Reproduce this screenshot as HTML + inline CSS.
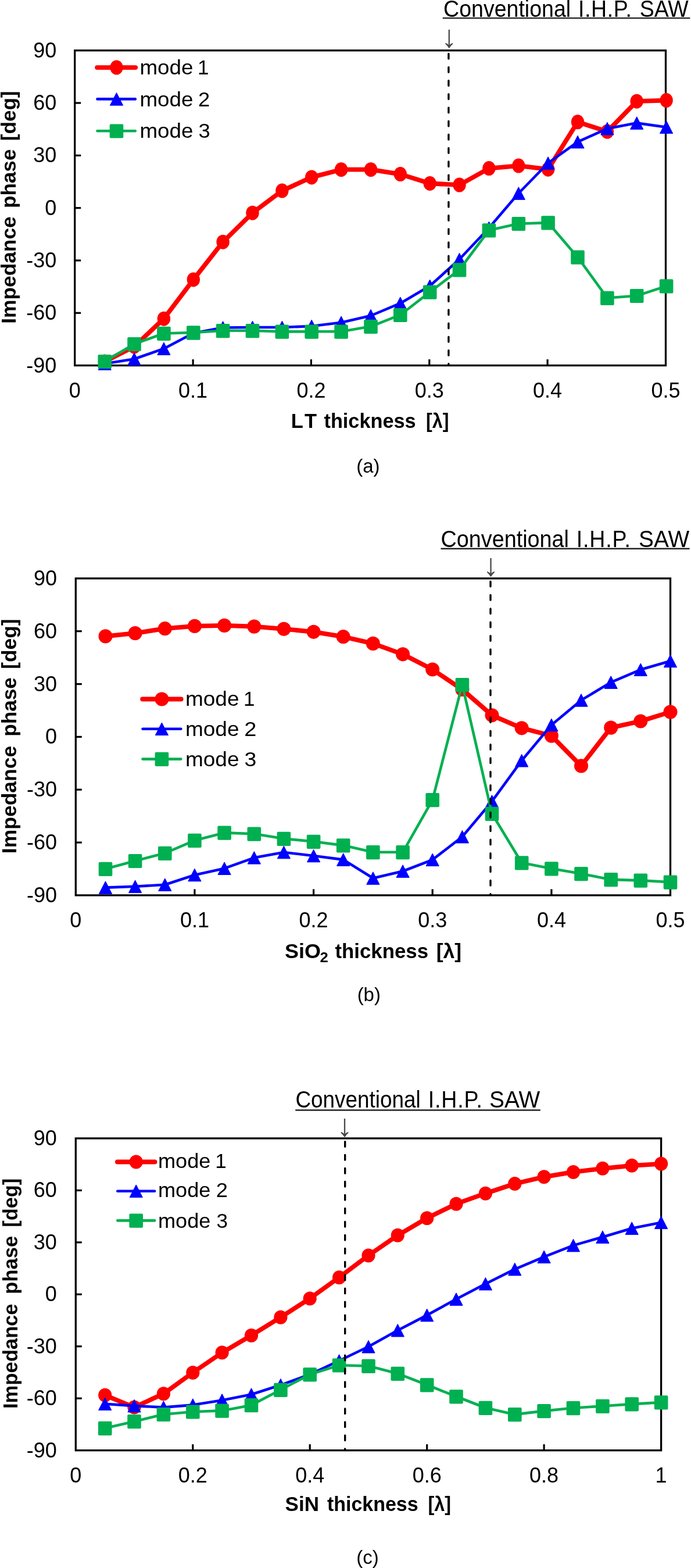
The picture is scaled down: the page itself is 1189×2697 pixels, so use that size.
<!DOCTYPE html>
<html><head><meta charset="utf-8"><title>Impedance phase vs thickness</title>
<style>
html,body{margin:0;padding:0;background:#fff;}
svg{display:block;}
.t{font-family:'Liberation Sans', Arial, sans-serif;font-size:35px;fill:#000;}
.tk{font-family:'Liberation Sans', Arial, sans-serif;font-size:36px;fill:#000;}
.b{font-family:'Liberation Sans', Arial, sans-serif;font-size:36px;font-weight:bold;fill:#000;}
.ann{font-family:'Liberation Sans', Arial, sans-serif;font-size:37.5px;fill:#000;word-spacing:0px;}
.cap{font-family:'Liberation Sans', Arial, sans-serif;font-size:33px;fill:#000;}
.arr{font-family:'Liberation Sans', Arial, sans-serif;font-size:54px;fill:#484848;}
.ax{stroke:#000;stroke-width:3.2;}
.bx{font-family:'Liberation Sans', Arial, sans-serif;font-size:34.5px;font-weight:bold;fill:#000;}
</style></head>
<body>
<svg width="1189" height="2697" viewBox="0 0 1189 2697">
<rect width="1189" height="2697" fill="#fff"/>
<text x="97.4" y="98.7" text-anchor="end" class="tk">90</text>
<text x="97.4" y="189.0" text-anchor="end" class="tk">60</text>
<line x1="128.7" y1="177.1" x2="139.2" y2="177.1" class="ax"/>
<text x="97.4" y="279.3" text-anchor="end" class="tk">30</text>
<line x1="128.7" y1="267.4" x2="139.2" y2="267.4" class="ax"/>
<text x="97.4" y="369.6" text-anchor="end" class="tk">0</text>
<line x1="128.7" y1="357.7" x2="139.2" y2="357.7" class="ax"/>
<text x="97.4" y="459.9" text-anchor="end" class="tk">-30</text>
<line x1="128.7" y1="448.0" x2="139.2" y2="448.0" class="ax"/>
<text x="97.4" y="550.2" text-anchor="end" class="tk">-60</text>
<line x1="128.7" y1="538.3" x2="139.2" y2="538.3" class="ax"/>
<text x="97.4" y="640.5" text-anchor="end" class="tk">-90</text>
<text x="128.7" y="683.6" text-anchor="middle" class="tk">0</text>
<text x="332.1" y="683.6" text-anchor="middle" class="tk">0.1</text>
<line x1="332.1" y1="628.6" x2="332.1" y2="618.1" class="ax"/>
<text x="535.4" y="683.6" text-anchor="middle" class="tk">0.2</text>
<line x1="535.4" y1="628.6" x2="535.4" y2="618.1" class="ax"/>
<text x="738.8" y="683.6" text-anchor="middle" class="tk">0.3</text>
<line x1="738.8" y1="628.6" x2="738.8" y2="618.1" class="ax"/>
<text x="942.1" y="683.6" text-anchor="middle" class="tk">0.4</text>
<line x1="942.1" y1="628.6" x2="942.1" y2="618.1" class="ax"/>
<text x="1145.5" y="683.6" text-anchor="middle" class="tk">0.5</text>
<rect x="128.7" y="86.8" width="1016.8" height="541.8" fill="none" stroke="#000" stroke-width="3.3"/>
<polyline points="180.2,622.0 231.0,596.0 281.9,548.2 332.8,480.9 383.6,416.2 434.5,366.2 485.4,328.1 536.2,304.9 587.1,291.7 638.0,291.7 688.8,299.6 739.7,315.5 790.5,318.1 841.4,289.6 892.3,285.1 943.1,291.2 994.0,209.8 1044.9,226.3 1095.7,174.2 1146.6,172.6" fill="none" stroke="#FF0000" stroke-width="7.8" stroke-linejoin="round" stroke-linecap="round"/>
<ellipse cx="180.2" cy="622.0" rx="11.2" ry="12.5" fill="#FF0000"/>
<ellipse cx="231.0" cy="596.0" rx="11.2" ry="12.5" fill="#FF0000"/>
<ellipse cx="281.9" cy="548.2" rx="11.2" ry="12.5" fill="#FF0000"/>
<ellipse cx="332.8" cy="480.9" rx="11.2" ry="12.5" fill="#FF0000"/>
<ellipse cx="383.6" cy="416.2" rx="11.2" ry="12.5" fill="#FF0000"/>
<ellipse cx="434.5" cy="366.2" rx="11.2" ry="12.5" fill="#FF0000"/>
<ellipse cx="485.4" cy="328.1" rx="11.2" ry="12.5" fill="#FF0000"/>
<ellipse cx="536.2" cy="304.9" rx="11.2" ry="12.5" fill="#FF0000"/>
<ellipse cx="587.1" cy="291.7" rx="11.2" ry="12.5" fill="#FF0000"/>
<ellipse cx="638.0" cy="291.7" rx="11.2" ry="12.5" fill="#FF0000"/>
<ellipse cx="688.8" cy="299.6" rx="11.2" ry="12.5" fill="#FF0000"/>
<ellipse cx="739.7" cy="315.5" rx="11.2" ry="12.5" fill="#FF0000"/>
<ellipse cx="790.5" cy="318.1" rx="11.2" ry="12.5" fill="#FF0000"/>
<ellipse cx="841.4" cy="289.6" rx="11.2" ry="12.5" fill="#FF0000"/>
<ellipse cx="892.3" cy="285.1" rx="11.2" ry="12.5" fill="#FF0000"/>
<ellipse cx="943.1" cy="291.2" rx="11.2" ry="12.5" fill="#FF0000"/>
<ellipse cx="994.0" cy="209.8" rx="11.2" ry="12.5" fill="#FF0000"/>
<ellipse cx="1044.9" cy="226.3" rx="11.2" ry="12.5" fill="#FF0000"/>
<ellipse cx="1095.7" cy="174.2" rx="11.2" ry="12.5" fill="#FF0000"/>
<ellipse cx="1146.6" cy="172.6" rx="11.2" ry="12.5" fill="#FF0000"/>
<polyline points="180.2,625.5 231.0,617.5 281.9,599.7 332.8,573.0 383.6,563.5 434.5,563.0 485.4,563.0 536.2,561.0 587.1,554.7 638.0,543.0 688.8,521.7 739.7,491.8 790.5,446.0 841.4,392.0 892.3,332.5 943.1,280.5 994.0,244.1 1044.9,221.2 1095.7,211.6 1146.6,218.7" fill="none" stroke="#0000FF" stroke-width="4.6" stroke-linejoin="round" stroke-linecap="round"/>
<path d="M180.2,614.7 L191.3,636.3 L169.1,636.3 Z" fill="#0000FF" stroke="#0000FF" stroke-width="1" stroke-linejoin="round"/>
<path d="M231.0,606.7 L242.1,628.3 L219.9,628.3 Z" fill="#0000FF" stroke="#0000FF" stroke-width="1" stroke-linejoin="round"/>
<path d="M281.9,588.9 L293.0,610.5 L270.8,610.5 Z" fill="#0000FF" stroke="#0000FF" stroke-width="1" stroke-linejoin="round"/>
<path d="M332.8,562.2 L343.9,583.8 L321.7,583.8 Z" fill="#0000FF" stroke="#0000FF" stroke-width="1" stroke-linejoin="round"/>
<path d="M383.6,552.7 L394.7,574.3 L372.5,574.3 Z" fill="#0000FF" stroke="#0000FF" stroke-width="1" stroke-linejoin="round"/>
<path d="M434.5,552.2 L445.6,573.8 L423.4,573.8 Z" fill="#0000FF" stroke="#0000FF" stroke-width="1" stroke-linejoin="round"/>
<path d="M485.4,552.2 L496.5,573.8 L474.3,573.8 Z" fill="#0000FF" stroke="#0000FF" stroke-width="1" stroke-linejoin="round"/>
<path d="M536.2,550.2 L547.3,571.8 L525.1,571.8 Z" fill="#0000FF" stroke="#0000FF" stroke-width="1" stroke-linejoin="round"/>
<path d="M587.1,543.9 L598.2,565.5 L576.0,565.5 Z" fill="#0000FF" stroke="#0000FF" stroke-width="1" stroke-linejoin="round"/>
<path d="M638.0,532.2 L649.1,553.8 L626.9,553.8 Z" fill="#0000FF" stroke="#0000FF" stroke-width="1" stroke-linejoin="round"/>
<path d="M688.8,510.9 L699.9,532.5 L677.7,532.5 Z" fill="#0000FF" stroke="#0000FF" stroke-width="1" stroke-linejoin="round"/>
<path d="M739.7,481.0 L750.8,502.6 L728.6,502.6 Z" fill="#0000FF" stroke="#0000FF" stroke-width="1" stroke-linejoin="round"/>
<path d="M790.5,435.2 L801.6,456.8 L779.4,456.8 Z" fill="#0000FF" stroke="#0000FF" stroke-width="1" stroke-linejoin="round"/>
<path d="M841.4,381.2 L852.5,402.8 L830.3,402.8 Z" fill="#0000FF" stroke="#0000FF" stroke-width="1" stroke-linejoin="round"/>
<path d="M892.3,321.7 L903.4,343.3 L881.2,343.3 Z" fill="#0000FF" stroke="#0000FF" stroke-width="1" stroke-linejoin="round"/>
<path d="M943.1,269.7 L954.2,291.3 L932.0,291.3 Z" fill="#0000FF" stroke="#0000FF" stroke-width="1" stroke-linejoin="round"/>
<path d="M994.0,233.3 L1005.1,254.9 L982.9,254.9 Z" fill="#0000FF" stroke="#0000FF" stroke-width="1" stroke-linejoin="round"/>
<path d="M1044.9,210.4 L1056.0,232.0 L1033.8,232.0 Z" fill="#0000FF" stroke="#0000FF" stroke-width="1" stroke-linejoin="round"/>
<path d="M1095.7,200.8 L1106.8,222.4 L1084.6,222.4 Z" fill="#0000FF" stroke="#0000FF" stroke-width="1" stroke-linejoin="round"/>
<path d="M1146.6,207.9 L1157.7,229.5 L1135.5,229.5 Z" fill="#0000FF" stroke="#0000FF" stroke-width="1" stroke-linejoin="round"/>
<polyline points="180.2,621.7 231.0,591.7 281.9,573.5 332.8,572.0 383.6,568.8 434.5,568.8 485.4,570.4 536.2,570.3 587.1,570.3 638.0,561.6 688.8,541.7 739.7,502.3 790.5,464.0 841.4,396.0 892.3,384.7 943.1,383.1 994.0,442.4 1044.9,512.5 1095.7,508.7 1146.6,492.1" fill="none" stroke="#00B050" stroke-width="4.6" stroke-linejoin="round" stroke-linecap="round"/>
<rect x="168.4" y="609.9" width="23.6" height="24.200000000000003" rx="2" fill="#00B050"/>
<rect x="219.2" y="579.9" width="23.6" height="24.200000000000003" rx="2" fill="#00B050"/>
<rect x="270.1" y="561.7" width="23.6" height="24.200000000000003" rx="2" fill="#00B050"/>
<rect x="321.0" y="560.2" width="23.6" height="24.200000000000003" rx="2" fill="#00B050"/>
<rect x="371.8" y="557.0" width="23.6" height="24.200000000000003" rx="2" fill="#00B050"/>
<rect x="422.7" y="557.0" width="23.6" height="24.200000000000003" rx="2" fill="#00B050"/>
<rect x="473.6" y="558.6" width="23.6" height="24.200000000000003" rx="2" fill="#00B050"/>
<rect x="524.4" y="558.5" width="23.6" height="24.200000000000003" rx="2" fill="#00B050"/>
<rect x="575.3" y="558.5" width="23.6" height="24.200000000000003" rx="2" fill="#00B050"/>
<rect x="626.2" y="549.8" width="23.6" height="24.200000000000003" rx="2" fill="#00B050"/>
<rect x="677.0" y="529.9" width="23.6" height="24.200000000000003" rx="2" fill="#00B050"/>
<rect x="727.9" y="490.5" width="23.6" height="24.200000000000003" rx="2" fill="#00B050"/>
<rect x="778.7" y="452.2" width="23.6" height="24.200000000000003" rx="2" fill="#00B050"/>
<rect x="829.6" y="384.2" width="23.6" height="24.200000000000003" rx="2" fill="#00B050"/>
<rect x="880.5" y="372.9" width="23.6" height="24.200000000000003" rx="2" fill="#00B050"/>
<rect x="931.3" y="371.3" width="23.6" height="24.200000000000003" rx="2" fill="#00B050"/>
<rect x="982.2" y="430.6" width="23.6" height="24.200000000000003" rx="2" fill="#00B050"/>
<rect x="1033.1" y="500.7" width="23.6" height="24.200000000000003" rx="2" fill="#00B050"/>
<rect x="1083.9" y="496.9" width="23.6" height="24.200000000000003" rx="2" fill="#00B050"/>
<rect x="1134.8" y="480.3" width="23.6" height="24.200000000000003" rx="2" fill="#00B050"/>
<line x1="771.9" y1="92.4" x2="771.9" y2="627.6" stroke="#000" stroke-width="3.4" stroke-linecap="round" stroke-dasharray="8.6 14.59"/>
<line x1="167.1" y1="116.1" x2="233.2" y2="116.1" stroke="#FF0000" stroke-width="7.8" stroke-linecap="round"/>
<ellipse cx="200.5" cy="116.1" rx="11.2" ry="12.5" fill="#FF0000"/>
<text x="240.4" y="128.3" class="t" textLength="92.0" lengthAdjust="spacingAndGlyphs">mode</text>
<text x="340.1" y="128.3" class="t">1</text>
<line x1="167.5" y1="170.4" x2="232.8" y2="170.4" stroke="#0000FF" stroke-width="4.6" stroke-linecap="round"/>
<path d="M200.5,159.6 L211.6,181.2 L189.4,181.2 Z" fill="#0000FF" stroke="#0000FF" stroke-width="1" stroke-linejoin="round"/>
<text x="240.4" y="182.6" class="t" textLength="92.0" lengthAdjust="spacingAndGlyphs">mode</text>
<text x="341.1" y="182.6" class="t" textLength="20.2" lengthAdjust="spacingAndGlyphs">2</text>
<line x1="167.5" y1="225.2" x2="232.8" y2="225.2" stroke="#00B050" stroke-width="4.6" stroke-linecap="round"/>
<rect x="188.7" y="213.4" width="23.6" height="24.200000000000003" rx="2" fill="#00B050"/>
<text x="240.4" y="237.2" class="t" textLength="92.0" lengthAdjust="spacingAndGlyphs">mode</text>
<text x="341.4" y="237.2" class="t" textLength="20.2" lengthAdjust="spacingAndGlyphs">3</text>
<text transform="translate(763.1,28.6) scale(1,1.07)" class="ann" textLength="219.0" lengthAdjust="spacingAndGlyphs">Conventional</text>
<text transform="translate(994.9,28.6) scale(1,1.07)" class="ann" textLength="92.0" lengthAdjust="spacing">I.H.P.</text>
<text transform="translate(1100.7,28.6) scale(1,1.07)" class="ann" textLength="84.1" lengthAdjust="spacingAndGlyphs">SAW</text>
<line x1="761.7" y1="31.1" x2="1187.4" y2="31.1" stroke="#222" stroke-width="2.4"/>
<text x="772.9" y="80.6" text-anchor="middle" class="arr">↓</text>
<text transform="translate(27.3,556.7) rotate(-90)" class="b" style="font-size:35.3px" textLength="184.4" lengthAdjust="spacingAndGlyphs">Impedance</text>
<text transform="translate(27.3,358.0) rotate(-90)" class="b" style="font-size:35.3px" textLength="101.4" lengthAdjust="spacingAndGlyphs">phase</text>
<text transform="translate(27.3,242.2) rotate(-90)" class="b" style="font-size:35.3px" textLength="85.7" lengthAdjust="spacingAndGlyphs">[deg]</text>
<text x="500.8" y="735.7" class="bx" textLength="44.4" lengthAdjust="spacing">LT</text>
<text x="557.5" y="735.7" class="bx" textLength="158.1" lengthAdjust="spacingAndGlyphs">thickness</text>
<text x="733.1" y="735.7" class="bx" textLength="39.5" lengthAdjust="spacingAndGlyphs">[λ]</text>
<text x="633.4" y="813.0" text-anchor="middle" class="cap">(a)</text>
<text x="98.0" y="1006.8" text-anchor="end" class="tk">90</text>
<text x="98.0" y="1097.6" text-anchor="end" class="tk">60</text>
<line x1="130.3" y1="1085.7" x2="140.8" y2="1085.7" class="ax"/>
<text x="98.0" y="1188.5" text-anchor="end" class="tk">30</text>
<line x1="130.3" y1="1176.6" x2="140.8" y2="1176.6" class="ax"/>
<text x="98.0" y="1279.3" text-anchor="end" class="tk">0</text>
<line x1="130.3" y1="1267.4" x2="140.8" y2="1267.4" class="ax"/>
<text x="98.0" y="1370.1" text-anchor="end" class="tk">-30</text>
<line x1="130.3" y1="1358.2" x2="140.8" y2="1358.2" class="ax"/>
<text x="98.0" y="1461.0" text-anchor="end" class="tk">-60</text>
<line x1="130.3" y1="1449.1" x2="140.8" y2="1449.1" class="ax"/>
<text x="98.0" y="1551.8" text-anchor="end" class="tk">-90</text>
<text x="130.3" y="1594.9" text-anchor="middle" class="tk">0</text>
<text x="334.9" y="1594.9" text-anchor="middle" class="tk">0.1</text>
<line x1="334.9" y1="1539.9" x2="334.9" y2="1529.4" class="ax"/>
<text x="539.6" y="1594.9" text-anchor="middle" class="tk">0.2</text>
<line x1="539.6" y1="1539.9" x2="539.6" y2="1529.4" class="ax"/>
<text x="744.2" y="1594.9" text-anchor="middle" class="tk">0.3</text>
<line x1="744.2" y1="1539.9" x2="744.2" y2="1529.4" class="ax"/>
<text x="948.9" y="1594.9" text-anchor="middle" class="tk">0.4</text>
<line x1="948.9" y1="1539.9" x2="948.9" y2="1529.4" class="ax"/>
<text x="1153.5" y="1594.9" text-anchor="middle" class="tk">0.5</text>
<rect x="130.3" y="994.9" width="1023.2" height="545.0" fill="none" stroke="#000" stroke-width="3.3"/>
<polyline points="181.5,1094.4 232.6,1089.1 283.8,1081.2 334.9,1076.9 386.1,1075.9 437.3,1077.6 488.4,1081.8 539.6,1086.8 590.7,1095.2 641.9,1106.9 693.1,1125.3 744.2,1151.5 795.4,1186.0 846.5,1230.3 897.7,1252.3 948.9,1265.6 1000.0,1317.4 1051.2,1251.6 1102.3,1240.5 1153.5,1224.6" fill="none" stroke="#FF0000" stroke-width="7.8" stroke-linejoin="round" stroke-linecap="round"/>
<ellipse cx="181.5" cy="1094.4" rx="12.0" ry="12.1" fill="#FF0000"/>
<ellipse cx="232.6" cy="1089.1" rx="12.0" ry="12.1" fill="#FF0000"/>
<ellipse cx="283.8" cy="1081.2" rx="12.0" ry="12.1" fill="#FF0000"/>
<ellipse cx="334.9" cy="1076.9" rx="12.0" ry="12.1" fill="#FF0000"/>
<ellipse cx="386.1" cy="1075.9" rx="12.0" ry="12.1" fill="#FF0000"/>
<ellipse cx="437.3" cy="1077.6" rx="12.0" ry="12.1" fill="#FF0000"/>
<ellipse cx="488.4" cy="1081.8" rx="12.0" ry="12.1" fill="#FF0000"/>
<ellipse cx="539.6" cy="1086.8" rx="12.0" ry="12.1" fill="#FF0000"/>
<ellipse cx="590.7" cy="1095.2" rx="12.0" ry="12.1" fill="#FF0000"/>
<ellipse cx="641.9" cy="1106.9" rx="12.0" ry="12.1" fill="#FF0000"/>
<ellipse cx="693.1" cy="1125.3" rx="12.0" ry="12.1" fill="#FF0000"/>
<ellipse cx="744.2" cy="1151.5" rx="12.0" ry="12.1" fill="#FF0000"/>
<ellipse cx="795.4" cy="1186.0" rx="12.0" ry="12.1" fill="#FF0000"/>
<ellipse cx="846.5" cy="1230.3" rx="12.0" ry="12.1" fill="#FF0000"/>
<ellipse cx="897.7" cy="1252.3" rx="12.0" ry="12.1" fill="#FF0000"/>
<ellipse cx="948.9" cy="1265.6" rx="12.0" ry="12.1" fill="#FF0000"/>
<ellipse cx="1000.0" cy="1317.4" rx="12.0" ry="12.1" fill="#FF0000"/>
<ellipse cx="1051.2" cy="1251.6" rx="12.0" ry="12.1" fill="#FF0000"/>
<ellipse cx="1102.3" cy="1240.5" rx="12.0" ry="12.1" fill="#FF0000"/>
<ellipse cx="1153.5" cy="1224.6" rx="12.0" ry="12.1" fill="#FF0000"/>
<polyline points="181.5,1526.6 232.6,1524.8 283.8,1521.7 334.9,1505.0 386.1,1493.7 437.3,1475.3 488.4,1466.0 539.6,1472.0 590.7,1478.6 641.9,1510.5 693.1,1498.5 744.2,1478.8 795.4,1439.2 846.5,1378.4 897.7,1308.2 948.9,1246.9 1000.0,1204.4 1051.2,1173.6 1102.3,1151.8 1153.5,1137.0" fill="none" stroke="#0000FF" stroke-width="4.6" stroke-linejoin="round" stroke-linecap="round"/>
<path d="M181.5,1515.8 L192.6,1537.4 L170.4,1537.4 Z" fill="#0000FF" stroke="#0000FF" stroke-width="1" stroke-linejoin="round"/>
<path d="M232.6,1514.0 L243.7,1535.6 L221.5,1535.6 Z" fill="#0000FF" stroke="#0000FF" stroke-width="1" stroke-linejoin="round"/>
<path d="M283.8,1510.9 L294.9,1532.5 L272.7,1532.5 Z" fill="#0000FF" stroke="#0000FF" stroke-width="1" stroke-linejoin="round"/>
<path d="M334.9,1494.2 L346.0,1515.8 L323.8,1515.8 Z" fill="#0000FF" stroke="#0000FF" stroke-width="1" stroke-linejoin="round"/>
<path d="M386.1,1482.9 L397.2,1504.5 L375.0,1504.5 Z" fill="#0000FF" stroke="#0000FF" stroke-width="1" stroke-linejoin="round"/>
<path d="M437.3,1464.5 L448.4,1486.1 L426.2,1486.1 Z" fill="#0000FF" stroke="#0000FF" stroke-width="1" stroke-linejoin="round"/>
<path d="M488.4,1455.2 L499.5,1476.8 L477.3,1476.8 Z" fill="#0000FF" stroke="#0000FF" stroke-width="1" stroke-linejoin="round"/>
<path d="M539.6,1461.2 L550.7,1482.8 L528.5,1482.8 Z" fill="#0000FF" stroke="#0000FF" stroke-width="1" stroke-linejoin="round"/>
<path d="M590.7,1467.8 L601.8,1489.4 L579.6,1489.4 Z" fill="#0000FF" stroke="#0000FF" stroke-width="1" stroke-linejoin="round"/>
<path d="M641.9,1499.7 L653.0,1521.3 L630.8,1521.3 Z" fill="#0000FF" stroke="#0000FF" stroke-width="1" stroke-linejoin="round"/>
<path d="M693.1,1487.7 L704.2,1509.3 L682.0,1509.3 Z" fill="#0000FF" stroke="#0000FF" stroke-width="1" stroke-linejoin="round"/>
<path d="M744.2,1468.0 L755.3,1489.6 L733.1,1489.6 Z" fill="#0000FF" stroke="#0000FF" stroke-width="1" stroke-linejoin="round"/>
<path d="M795.4,1428.4 L806.5,1450.0 L784.3,1450.0 Z" fill="#0000FF" stroke="#0000FF" stroke-width="1" stroke-linejoin="round"/>
<path d="M846.5,1367.6 L857.6,1389.2 L835.4,1389.2 Z" fill="#0000FF" stroke="#0000FF" stroke-width="1" stroke-linejoin="round"/>
<path d="M897.7,1297.4 L908.8,1319.0 L886.6,1319.0 Z" fill="#0000FF" stroke="#0000FF" stroke-width="1" stroke-linejoin="round"/>
<path d="M948.9,1236.1 L960.0,1257.7 L937.8,1257.7 Z" fill="#0000FF" stroke="#0000FF" stroke-width="1" stroke-linejoin="round"/>
<path d="M1000.0,1193.6 L1011.1,1215.2 L988.9,1215.2 Z" fill="#0000FF" stroke="#0000FF" stroke-width="1" stroke-linejoin="round"/>
<path d="M1051.2,1162.8 L1062.3,1184.4 L1040.1,1184.4 Z" fill="#0000FF" stroke="#0000FF" stroke-width="1" stroke-linejoin="round"/>
<path d="M1102.3,1141.0 L1113.4,1162.6 L1091.2,1162.6 Z" fill="#0000FF" stroke="#0000FF" stroke-width="1" stroke-linejoin="round"/>
<path d="M1153.5,1126.2 L1164.6,1147.8 L1142.4,1147.8 Z" fill="#0000FF" stroke="#0000FF" stroke-width="1" stroke-linejoin="round"/>
<polyline points="181.5,1494.5 232.6,1480.7 283.8,1467.5 334.9,1445.6 386.1,1432.4 437.3,1434.3 488.4,1442.5 539.6,1447.5 590.7,1454.1 641.9,1465.8 693.1,1465.8 744.2,1375.8 795.4,1177.7 846.5,1399.5 897.7,1484.0 948.9,1494.1 1000.0,1502.8 1051.2,1512.9 1102.3,1514.4 1153.5,1517.3" fill="none" stroke="#00B050" stroke-width="4.6" stroke-linejoin="round" stroke-linecap="round"/>
<rect x="169.7" y="1482.7" width="23.6" height="24.200000000000003" rx="2" fill="#00B050"/>
<rect x="220.8" y="1468.9" width="23.6" height="24.200000000000003" rx="2" fill="#00B050"/>
<rect x="272.0" y="1455.7" width="23.6" height="24.200000000000003" rx="2" fill="#00B050"/>
<rect x="323.1" y="1433.8" width="23.6" height="24.200000000000003" rx="2" fill="#00B050"/>
<rect x="374.3" y="1420.6" width="23.6" height="24.200000000000003" rx="2" fill="#00B050"/>
<rect x="425.5" y="1422.5" width="23.6" height="24.200000000000003" rx="2" fill="#00B050"/>
<rect x="476.6" y="1430.7" width="23.6" height="24.200000000000003" rx="2" fill="#00B050"/>
<rect x="527.8" y="1435.7" width="23.6" height="24.200000000000003" rx="2" fill="#00B050"/>
<rect x="578.9" y="1442.3" width="23.6" height="24.200000000000003" rx="2" fill="#00B050"/>
<rect x="630.1" y="1454.0" width="23.6" height="24.200000000000003" rx="2" fill="#00B050"/>
<rect x="681.3" y="1454.0" width="23.6" height="24.200000000000003" rx="2" fill="#00B050"/>
<rect x="732.4" y="1364.0" width="23.6" height="24.200000000000003" rx="2" fill="#00B050"/>
<rect x="783.6" y="1165.9" width="23.6" height="24.200000000000003" rx="2" fill="#00B050"/>
<rect x="834.7" y="1387.7" width="23.6" height="24.200000000000003" rx="2" fill="#00B050"/>
<rect x="885.9" y="1472.2" width="23.6" height="24.200000000000003" rx="2" fill="#00B050"/>
<rect x="937.1" y="1482.3" width="23.6" height="24.200000000000003" rx="2" fill="#00B050"/>
<rect x="988.2" y="1491.0" width="23.6" height="24.200000000000003" rx="2" fill="#00B050"/>
<rect x="1039.4" y="1501.1" width="23.6" height="24.200000000000003" rx="2" fill="#00B050"/>
<rect x="1090.5" y="1502.6" width="23.6" height="24.200000000000003" rx="2" fill="#00B050"/>
<rect x="1141.7" y="1505.5" width="23.6" height="24.200000000000003" rx="2" fill="#00B050"/>
<line x1="844.0" y1="1000.2" x2="844.0" y2="1538.9" stroke="#000" stroke-width="3.4" stroke-linecap="round" stroke-dasharray="8.6 14.77"/>
<line x1="245.1" y1="1202.5" x2="311.7" y2="1202.5" stroke="#FF0000" stroke-width="7.8" stroke-linecap="round"/>
<ellipse cx="278.4" cy="1202.5" rx="12.0" ry="12.1" fill="#FF0000"/>
<text x="319.0" y="1214.2" class="t" textLength="92.5" lengthAdjust="spacingAndGlyphs">mode</text>
<text x="419.1" y="1214.2" class="t">1</text>
<line x1="245.5" y1="1253.8" x2="311.3" y2="1253.8" stroke="#0000FF" stroke-width="4.6" stroke-linecap="round"/>
<path d="M278.4,1243.0 L289.5,1264.6 L267.3,1264.6 Z" fill="#0000FF" stroke="#0000FF" stroke-width="1" stroke-linejoin="round"/>
<text x="319.0" y="1265.9" class="t" textLength="92.5" lengthAdjust="spacingAndGlyphs">mode</text>
<text x="420.2" y="1265.9" class="t" textLength="21.1" lengthAdjust="spacingAndGlyphs">2</text>
<line x1="245.5" y1="1305.6" x2="311.3" y2="1305.6" stroke="#00B050" stroke-width="4.6" stroke-linecap="round"/>
<rect x="266.6" y="1293.8" width="23.6" height="24.200000000000003" rx="2" fill="#00B050"/>
<text x="319.0" y="1317.6" class="t" textLength="92.5" lengthAdjust="spacingAndGlyphs">mode</text>
<text x="420.5" y="1317.6" class="t" textLength="20.8" lengthAdjust="spacingAndGlyphs">3</text>
<text transform="translate(758.6,940.9) scale(1,1.07)" class="ann" textLength="220.4" lengthAdjust="spacingAndGlyphs">Conventional</text>
<text transform="translate(991.7,940.9) scale(1,1.07)" class="ann" textLength="93.2" lengthAdjust="spacing">I.H.P.</text>
<text transform="translate(1099.1,940.9) scale(1,1.07)" class="ann" textLength="87.1" lengthAdjust="spacingAndGlyphs">SAW</text>
<line x1="758.5" y1="943.7" x2="1186.6" y2="943.7" stroke="#222" stroke-width="2.4"/>
<text x="844.8" y="989.9" text-anchor="middle" class="arr">↓</text>
<text transform="translate(28.3,1468.2) rotate(-90)" class="b" style="font-size:35.3px" textLength="185.5" lengthAdjust="spacingAndGlyphs">Impedance</text>
<text transform="translate(28.3,1266.8) rotate(-90)" class="b" style="font-size:35.3px" textLength="101.7" lengthAdjust="spacingAndGlyphs">phase</text>
<text transform="translate(28.3,1150.7) rotate(-90)" class="b" style="font-size:35.3px" textLength="86.1" lengthAdjust="spacingAndGlyphs">[deg]</text>
<text x="490.1" y="1648.0" class="bx" textLength="62.0" lengthAdjust="spacingAndGlyphs">SiO</text>
<text x="550.6" y="1654.8" class="bx" style="font-size:24px" textLength="14.3" lengthAdjust="spacingAndGlyphs">2</text>
<text x="576.5" y="1648.0" class="bx" textLength="160.5" lengthAdjust="spacingAndGlyphs">thickness</text>
<text x="750.7" y="1648.0" class="bx" textLength="43.5" lengthAdjust="spacingAndGlyphs">[λ]</text>
<text x="634.8" y="1722.0" text-anchor="middle" class="cap">(b)</text>
<text x="97.8" y="1969.9" text-anchor="end" class="tk">90</text>
<text x="97.8" y="2059.3" text-anchor="end" class="tk">60</text>
<line x1="130.3" y1="2047.5" x2="140.8" y2="2047.5" class="ax"/>
<text x="97.8" y="2148.8" text-anchor="end" class="tk">30</text>
<line x1="130.3" y1="2136.9" x2="140.8" y2="2136.9" class="ax"/>
<text x="97.8" y="2238.2" text-anchor="end" class="tk">0</text>
<line x1="130.3" y1="2226.3" x2="140.8" y2="2226.3" class="ax"/>
<text x="97.8" y="2327.7" text-anchor="end" class="tk">-30</text>
<line x1="130.3" y1="2315.8" x2="140.8" y2="2315.8" class="ax"/>
<text x="97.8" y="2417.2" text-anchor="end" class="tk">-60</text>
<line x1="130.3" y1="2405.2" x2="140.8" y2="2405.2" class="ax"/>
<text x="97.8" y="2506.6" text-anchor="end" class="tk">-90</text>
<text x="130.3" y="2549.7" text-anchor="middle" class="tk">0</text>
<text x="331.8" y="2549.7" text-anchor="middle" class="tk">0.2</text>
<line x1="331.8" y1="2494.7" x2="331.8" y2="2484.2" class="ax"/>
<text x="533.2" y="2549.7" text-anchor="middle" class="tk">0.4</text>
<line x1="533.2" y1="2494.7" x2="533.2" y2="2484.2" class="ax"/>
<text x="734.7" y="2549.7" text-anchor="middle" class="tk">0.6</text>
<line x1="734.7" y1="2494.7" x2="734.7" y2="2484.2" class="ax"/>
<text x="936.1" y="2549.7" text-anchor="middle" class="tk">0.8</text>
<line x1="936.1" y1="2494.7" x2="936.1" y2="2484.2" class="ax"/>
<text x="1137.6" y="2549.7" text-anchor="middle" class="tk">1</text>
<rect x="130.3" y="1958.0" width="1007.3" height="536.7" fill="none" stroke="#000" stroke-width="3.3"/>
<polyline points="180.7,2399.8 231.0,2420.5 281.4,2397.3 331.8,2360.9 382.1,2326.6 432.5,2296.9 482.9,2265.8 533.2,2233.4 583.6,2197.2 634.0,2159.4 684.3,2124.8 734.7,2095.2 785.0,2070.7 835.4,2052.7 885.8,2036.0 936.1,2024.3 986.5,2015.9 1036.9,2009.8 1087.2,2004.8 1137.6,2001.8" fill="none" stroke="#FF0000" stroke-width="7.8" stroke-linejoin="round" stroke-linecap="round"/>
<ellipse cx="180.7" cy="2399.8" rx="11.6" ry="12.0" fill="#FF0000"/>
<ellipse cx="231.0" cy="2420.5" rx="11.6" ry="12.0" fill="#FF0000"/>
<ellipse cx="281.4" cy="2397.3" rx="11.6" ry="12.0" fill="#FF0000"/>
<ellipse cx="331.8" cy="2360.9" rx="11.6" ry="12.0" fill="#FF0000"/>
<ellipse cx="382.1" cy="2326.6" rx="11.6" ry="12.0" fill="#FF0000"/>
<ellipse cx="432.5" cy="2296.9" rx="11.6" ry="12.0" fill="#FF0000"/>
<ellipse cx="482.9" cy="2265.8" rx="11.6" ry="12.0" fill="#FF0000"/>
<ellipse cx="533.2" cy="2233.4" rx="11.6" ry="12.0" fill="#FF0000"/>
<ellipse cx="583.6" cy="2197.2" rx="11.6" ry="12.0" fill="#FF0000"/>
<ellipse cx="634.0" cy="2159.4" rx="11.6" ry="12.0" fill="#FF0000"/>
<ellipse cx="684.3" cy="2124.8" rx="11.6" ry="12.0" fill="#FF0000"/>
<ellipse cx="734.7" cy="2095.2" rx="11.6" ry="12.0" fill="#FF0000"/>
<ellipse cx="785.0" cy="2070.7" rx="11.6" ry="12.0" fill="#FF0000"/>
<ellipse cx="835.4" cy="2052.7" rx="11.6" ry="12.0" fill="#FF0000"/>
<ellipse cx="885.8" cy="2036.0" rx="11.6" ry="12.0" fill="#FF0000"/>
<ellipse cx="936.1" cy="2024.3" rx="11.6" ry="12.0" fill="#FF0000"/>
<ellipse cx="986.5" cy="2015.9" rx="11.6" ry="12.0" fill="#FF0000"/>
<ellipse cx="1036.9" cy="2009.8" rx="11.6" ry="12.0" fill="#FF0000"/>
<ellipse cx="1087.2" cy="2004.8" rx="11.6" ry="12.0" fill="#FF0000"/>
<ellipse cx="1137.6" cy="2001.8" rx="11.6" ry="12.0" fill="#FF0000"/>
<polyline points="180.7,2414.8 231.0,2418.1 281.4,2420.6 331.8,2416.6 382.1,2408.4 432.5,2398.5 482.9,2382.3 533.2,2364.0 583.6,2340.5 634.0,2316.3 684.3,2288.3 734.7,2262.1 785.0,2234.6 835.4,2208.2 885.8,2183.1 936.1,2161.8 986.5,2142.1 1036.9,2127.7 1087.2,2112.7 1137.6,2102.8" fill="none" stroke="#0000FF" stroke-width="4.6" stroke-linejoin="round" stroke-linecap="round"/>
<path d="M180.7,2404.0 L191.8,2425.6 L169.6,2425.6 Z" fill="#0000FF" stroke="#0000FF" stroke-width="1" stroke-linejoin="round"/>
<path d="M231.0,2407.3 L242.1,2428.9 L219.9,2428.9 Z" fill="#0000FF" stroke="#0000FF" stroke-width="1" stroke-linejoin="round"/>
<path d="M281.4,2409.8 L292.5,2431.4 L270.3,2431.4 Z" fill="#0000FF" stroke="#0000FF" stroke-width="1" stroke-linejoin="round"/>
<path d="M331.8,2405.8 L342.9,2427.4 L320.7,2427.4 Z" fill="#0000FF" stroke="#0000FF" stroke-width="1" stroke-linejoin="round"/>
<path d="M382.1,2397.6 L393.2,2419.2 L371.0,2419.2 Z" fill="#0000FF" stroke="#0000FF" stroke-width="1" stroke-linejoin="round"/>
<path d="M432.5,2387.7 L443.6,2409.3 L421.4,2409.3 Z" fill="#0000FF" stroke="#0000FF" stroke-width="1" stroke-linejoin="round"/>
<path d="M482.9,2371.5 L494.0,2393.1 L471.8,2393.1 Z" fill="#0000FF" stroke="#0000FF" stroke-width="1" stroke-linejoin="round"/>
<path d="M533.2,2353.2 L544.3,2374.8 L522.1,2374.8 Z" fill="#0000FF" stroke="#0000FF" stroke-width="1" stroke-linejoin="round"/>
<path d="M583.6,2329.7 L594.7,2351.3 L572.5,2351.3 Z" fill="#0000FF" stroke="#0000FF" stroke-width="1" stroke-linejoin="round"/>
<path d="M634.0,2305.5 L645.1,2327.1 L622.9,2327.1 Z" fill="#0000FF" stroke="#0000FF" stroke-width="1" stroke-linejoin="round"/>
<path d="M684.3,2277.5 L695.4,2299.1 L673.2,2299.1 Z" fill="#0000FF" stroke="#0000FF" stroke-width="1" stroke-linejoin="round"/>
<path d="M734.7,2251.3 L745.8,2272.9 L723.6,2272.9 Z" fill="#0000FF" stroke="#0000FF" stroke-width="1" stroke-linejoin="round"/>
<path d="M785.0,2223.8 L796.1,2245.4 L773.9,2245.4 Z" fill="#0000FF" stroke="#0000FF" stroke-width="1" stroke-linejoin="round"/>
<path d="M835.4,2197.4 L846.5,2219.0 L824.3,2219.0 Z" fill="#0000FF" stroke="#0000FF" stroke-width="1" stroke-linejoin="round"/>
<path d="M885.8,2172.3 L896.9,2193.9 L874.7,2193.9 Z" fill="#0000FF" stroke="#0000FF" stroke-width="1" stroke-linejoin="round"/>
<path d="M936.1,2151.0 L947.2,2172.6 L925.0,2172.6 Z" fill="#0000FF" stroke="#0000FF" stroke-width="1" stroke-linejoin="round"/>
<path d="M986.5,2131.3 L997.6,2152.9 L975.4,2152.9 Z" fill="#0000FF" stroke="#0000FF" stroke-width="1" stroke-linejoin="round"/>
<path d="M1036.9,2116.9 L1048.0,2138.5 L1025.8,2138.5 Z" fill="#0000FF" stroke="#0000FF" stroke-width="1" stroke-linejoin="round"/>
<path d="M1087.2,2101.9 L1098.3,2123.5 L1076.1,2123.5 Z" fill="#0000FF" stroke="#0000FF" stroke-width="1" stroke-linejoin="round"/>
<path d="M1137.6,2092.0 L1148.7,2113.6 L1126.5,2113.6 Z" fill="#0000FF" stroke="#0000FF" stroke-width="1" stroke-linejoin="round"/>
<polyline points="180.7,2456.5 231.0,2444.9 281.4,2432.7 331.8,2428.2 382.1,2426.4 432.5,2416.9 482.9,2390.5 533.2,2364.1 583.6,2348.2 634.0,2349.5 684.3,2362.6 734.7,2382.0 785.0,2402.0 835.4,2421.5 885.8,2432.9 936.1,2426.9 986.5,2421.8 1036.9,2418.5 1087.2,2415.1 1137.6,2412.1" fill="none" stroke="#00B050" stroke-width="4.6" stroke-linejoin="round" stroke-linecap="round"/>
<rect x="168.9" y="2444.7" width="23.6" height="24.200000000000003" rx="2" fill="#00B050"/>
<rect x="219.2" y="2433.1" width="23.6" height="24.200000000000003" rx="2" fill="#00B050"/>
<rect x="269.6" y="2420.9" width="23.6" height="24.200000000000003" rx="2" fill="#00B050"/>
<rect x="320.0" y="2416.4" width="23.6" height="24.200000000000003" rx="2" fill="#00B050"/>
<rect x="370.3" y="2414.6" width="23.6" height="24.200000000000003" rx="2" fill="#00B050"/>
<rect x="420.7" y="2405.1" width="23.6" height="24.200000000000003" rx="2" fill="#00B050"/>
<rect x="471.1" y="2378.7" width="23.6" height="24.200000000000003" rx="2" fill="#00B050"/>
<rect x="521.4" y="2352.3" width="23.6" height="24.200000000000003" rx="2" fill="#00B050"/>
<rect x="571.8" y="2336.4" width="23.6" height="24.200000000000003" rx="2" fill="#00B050"/>
<rect x="622.2" y="2337.7" width="23.6" height="24.200000000000003" rx="2" fill="#00B050"/>
<rect x="672.5" y="2350.8" width="23.6" height="24.200000000000003" rx="2" fill="#00B050"/>
<rect x="722.9" y="2370.2" width="23.6" height="24.200000000000003" rx="2" fill="#00B050"/>
<rect x="773.2" y="2390.2" width="23.6" height="24.200000000000003" rx="2" fill="#00B050"/>
<rect x="823.6" y="2409.7" width="23.6" height="24.200000000000003" rx="2" fill="#00B050"/>
<rect x="874.0" y="2421.1" width="23.6" height="24.200000000000003" rx="2" fill="#00B050"/>
<rect x="924.3" y="2415.1" width="23.6" height="24.200000000000003" rx="2" fill="#00B050"/>
<rect x="974.7" y="2410.0" width="23.6" height="24.200000000000003" rx="2" fill="#00B050"/>
<rect x="1025.1" y="2406.7" width="23.6" height="24.200000000000003" rx="2" fill="#00B050"/>
<rect x="1075.4" y="2403.3" width="23.6" height="24.200000000000003" rx="2" fill="#00B050"/>
<rect x="1125.8" y="2400.3" width="23.6" height="24.200000000000003" rx="2" fill="#00B050"/>
<line x1="593.7" y1="1963.6" x2="593.7" y2="2493.7" stroke="#000" stroke-width="3.4" stroke-linecap="round" stroke-dasharray="8.6 14.37"/>
<line x1="201.9" y1="1998.5" x2="266.5" y2="1998.5" stroke="#FF0000" stroke-width="7.8" stroke-linecap="round"/>
<ellipse cx="234.2" cy="1998.5" rx="11.6" ry="12.0" fill="#FF0000"/>
<text x="272.0" y="2009.0" class="t" textLength="90.4" lengthAdjust="spacingAndGlyphs">mode</text>
<text x="370.2" y="2009.0" class="t">1</text>
<line x1="202.3" y1="2048.7" x2="266.1" y2="2048.7" stroke="#0000FF" stroke-width="4.6" stroke-linecap="round"/>
<path d="M234.2,2037.9 L245.3,2059.5 L223.1,2059.5 Z" fill="#0000FF" stroke="#0000FF" stroke-width="1" stroke-linejoin="round"/>
<text x="272.0" y="2058.9" class="t" textLength="90.4" lengthAdjust="spacingAndGlyphs">mode</text>
<text x="371.7" y="2058.9" class="t" textLength="20.2" lengthAdjust="spacingAndGlyphs">2</text>
<line x1="202.3" y1="2099.4" x2="266.1" y2="2099.4" stroke="#00B050" stroke-width="4.6" stroke-linecap="round"/>
<rect x="222.4" y="2087.6" width="23.6" height="24.200000000000003" rx="2" fill="#00B050"/>
<text x="272.0" y="2111.7" class="t" textLength="90.4" lengthAdjust="spacingAndGlyphs">mode</text>
<text x="372.4" y="2111.7" class="t" textLength="19.5" lengthAdjust="spacingAndGlyphs">3</text>
<text transform="translate(508.5,1905.0) scale(1,1.07)" class="ann" textLength="215.1" lengthAdjust="spacingAndGlyphs">Conventional</text>
<text transform="translate(736.7,1905.0) scale(1,1.07)" class="ann" textLength="93.2" lengthAdjust="spacing">I.H.P.</text>
<text transform="translate(842.1,1905.0) scale(1,1.07)" class="ann" textLength="87.1" lengthAdjust="spacingAndGlyphs">SAW</text>
<line x1="508.2" y1="1909.5" x2="929.8" y2="1909.5" stroke="#222" stroke-width="2.4"/>
<text x="593.3" y="1954.2" text-anchor="middle" class="arr">↓</text>
<text transform="translate(30.3,2423.1) rotate(-90)" class="b" style="font-size:35.3px" textLength="180.7" lengthAdjust="spacingAndGlyphs">Impedance</text>
<text transform="translate(30.3,2225.9) rotate(-90)" class="b" style="font-size:35.3px" textLength="100.2" lengthAdjust="spacingAndGlyphs">phase</text>
<text transform="translate(30.3,2110.7) rotate(-90)" class="b" style="font-size:35.3px" textLength="84.0" lengthAdjust="spacingAndGlyphs">[deg]</text>
<text x="490.6" y="2599.3" class="bx" textLength="58.4" lengthAdjust="spacingAndGlyphs">SiN</text>
<text x="562.9" y="2599.3" class="bx" textLength="156.8" lengthAdjust="spacingAndGlyphs">thickness</text>
<text x="736.6" y="2599.3" class="bx" textLength="39.5" lengthAdjust="spacingAndGlyphs">[λ]</text>
<text x="632.5" y="2689.5" text-anchor="middle" class="cap">(c)</text>
</svg>
</body></html>
